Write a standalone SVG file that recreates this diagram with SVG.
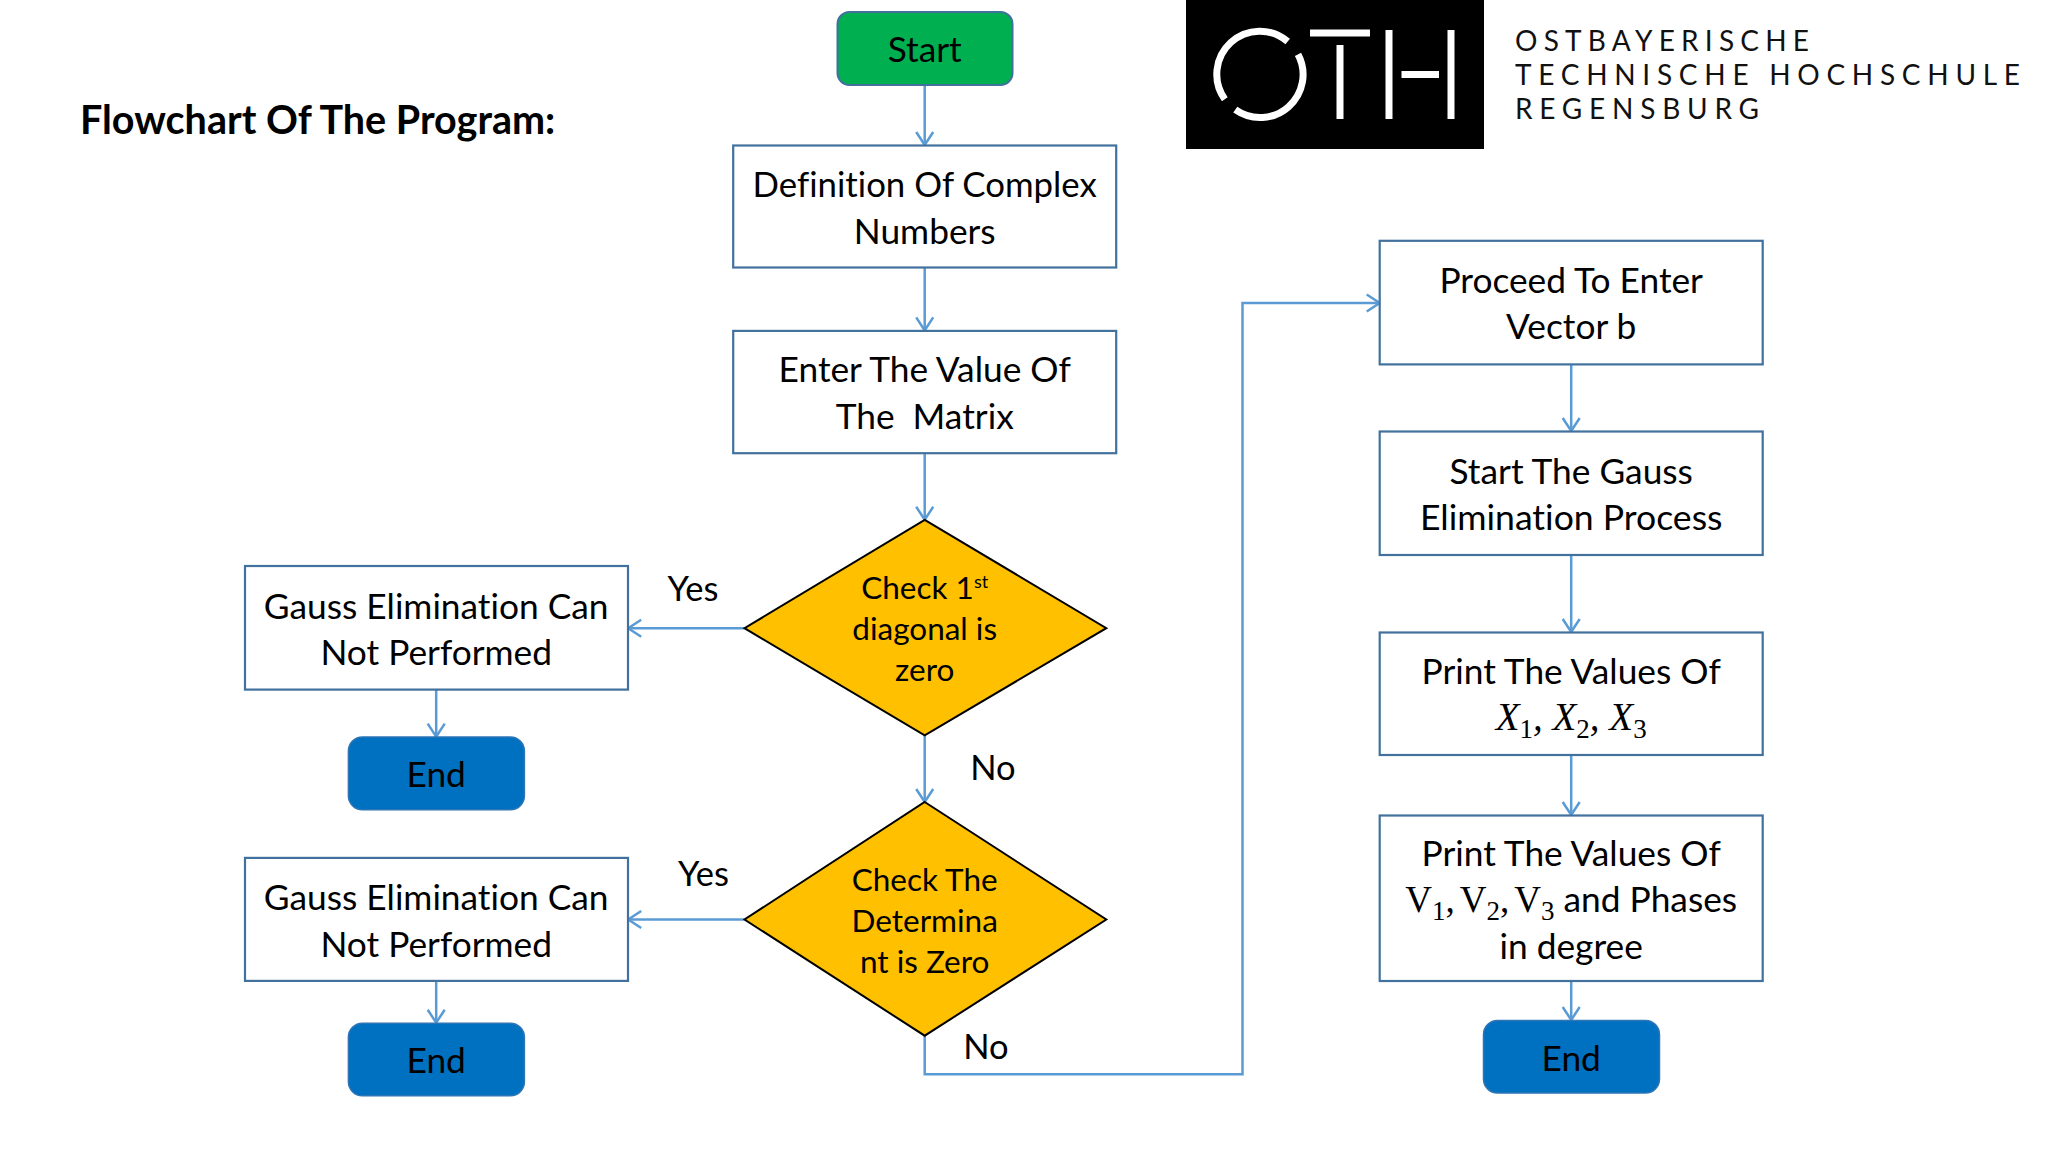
<svg xmlns="http://www.w3.org/2000/svg" width="2048" height="1152" viewBox="0 0 2048 1152">
<style>
text{font-family:"Lato","Carlito","Liberation Sans",sans-serif;fill:#000;text-anchor:middle;font-variant-ligatures:none}
.t{font-size:35.3px}
.d{font-size:31.5px}
.l{font-size:34.5px}
.box{fill:#fff;stroke:#41719c;stroke-width:2.2}
.end{fill:#0070c0;stroke:#2e75b6;stroke-width:1.5}
.dia{fill:#ffc000;stroke:#000;stroke-width:2}
.c{fill:none;stroke:#5b9bd5;stroke-width:2.5;marker-end:url(#a)}
.m{font-family:"Liberation Serif","DejaVu Serif",serif;font-style:italic;font-size:39px}
.v{font-family:"Liberation Serif","DejaVu Serif",serif;font-size:37px}
.s{font-family:"Liberation Serif","DejaVu Serif",serif;font-style:normal;font-size:27px}
.logo{fill:none;stroke:#fff;stroke-width:7}
.lt{font-family:"Lato","Open Sans",sans-serif;font-size:28px;text-anchor:start;fill:#111}
</style>
<defs>
<marker id="a" markerUnits="userSpaceOnUse" markerWidth="20" markerHeight="22" refX="15" refY="10" orient="auto" viewBox="0 0 20 20">
<path d="M2,1.5 L15,10 L2,18.5" fill="none" stroke="#5b9bd5" stroke-width="2.5"/>
</marker>
</defs>
<rect width="2048" height="1152" fill="#fff"/>
<text id="title" x="80" y="134" style="font-weight:700;font-size:39.5px;text-anchor:start">Flowchart Of The Program:</text>

<g id="logo">
<rect x="1186" y="0" width="298" height="149" fill="#000"/>
<path class="logo" d="M1287.7,41.5 A43,43 0 0 0 1224.8,99.2"/>
<path class="logo" d="M1235.3,109.7 A43,43 0 0 0 1298,54.3"/>
<path class="logo" d="M1310,33 H1370 M1340,45 V119 M1389,30 V119 M1401.5,74.5 H1439 M1451,30 V119"/>
<text class="lt" x="1515" y="51" textLength="294" lengthAdjust="spacing">OSTBAYERISCHE</text>
<text class="lt" x="1515" y="85" textLength="505" lengthAdjust="spacing">TECHNISCHE HOCHSCHULE</text>
<text class="lt" x="1515" y="119" textLength="244" lengthAdjust="spacing">REGENSBURG</text>
</g>

<g id="connectors">
<path class="c" d="M924.7,85 V145"/>
<path class="c" d="M924.7,267.7 V330.4"/>
<path class="c" d="M924.7,453.2 V519.8"/>
<path class="c" d="M924.7,735.3 V802"/>
<path class="c" d="M744.5,628.2 H628.2"/>
<path class="c" d="M744.5,919.5 H628.2"/>
<path class="c" d="M436.2,689.6 V736.6"/>
<path class="c" d="M436.2,980.9 V1022.7"/>
<path class="c" d="M924.7,1035.7 V1074.3 H1242.5 V303 H1379.7"/>
<path class="c" d="M1571.2,364.4 V431"/>
<path class="c" d="M1571.2,555 V632"/>
<path class="c" d="M1571.2,755 V815"/>
<path class="c" d="M1571.2,981 V1020"/>
</g>

<g id="start">
<rect x="837.5" y="12" width="175" height="73" rx="12" fill="#00b050" stroke="#41719c" stroke-width="2"/>
<text class="t" x="924.7" y="62">Start</text>
</g>
<g id="def">
<rect class="box" x="733.2" y="145.5" width="383" height="122"/>
<text class="t" x="924.7" y="197" style="font-size:34.8px">Definition Of Complex</text>
<text class="t" x="924.7" y="244">Numbers</text>
</g>
<g id="enter">
<rect class="box" x="733.2" y="330.9" width="383" height="122.3"/>
<text class="t" x="924.7" y="382">Enter The Value Of</text>
<text class="t" x="924.7" y="429" xml:space="preserve">The  Matrix</text>
</g>
<g id="check1">
<polygon class="dia" points="924.7,519.8 1106.3,628.2 924.7,735.3 744.5,628.2"/>
<text class="d" x="924.7" y="599">Check 1<tspan dy="-11" font-size="18">st</tspan></text>
<text class="d" x="924.7" y="640">diagonal is</text>
<text class="d" x="924.7" y="681">zero</text>
</g>
<g id="check2">
<polygon class="dia" points="924.7,802 1106.3,919.5 924.7,1035.7 744.5,919.5"/>
<text class="d" x="924.7" y="890.5">Check The</text>
<text class="d" x="924.7" y="932">Determina</text>
<text class="d" x="924.7" y="973">nt is Zero</text>
</g>
<g id="gauss1">
<rect class="box" x="245" y="566" width="383" height="123.6"/>
<text class="t" x="436.2" y="618.5">Gauss Elimination Can</text>
<text class="t" x="436.2" y="665">Not Performed</text>
</g>
<g id="end1">
<rect class="end" x="348.4" y="737" width="176" height="72.8" rx="14"/>
<text class="t" x="436.2" y="787">End</text>
</g>
<g id="gauss2">
<rect class="box" x="245" y="857.9" width="383" height="123"/>
<text class="t" x="436.2" y="910">Gauss Elimination Can</text>
<text class="t" x="436.2" y="956.5">Not Performed</text>
</g>
<g id="end2">
<rect class="end" x="348.4" y="1023.2" width="176" height="72.6" rx="14"/>
<text class="t" x="436.2" y="1073">End</text>
</g>
<g id="proceed">
<rect class="box" x="1379.7" y="240.8" width="383" height="123.6"/>
<text class="t" x="1571.2" y="292.5">Proceed To Enter</text>
<text class="t" x="1571.2" y="339">Vector b</text>
</g>
<g id="gaussstart">
<rect class="box" x="1379.7" y="431.5" width="383" height="123.5"/>
<text class="t" x="1571.2" y="483.5">Start The Gauss</text>
<text class="t" x="1571.2" y="530" style="font-size:35.6px">Elimination Process</text>
</g>
<g id="printx">
<rect class="box" x="1379.7" y="632.5" width="383" height="122.5"/>
<text class="t" x="1571.2" y="684">Print The Values Of</text>
<text class="t m" x="1571.2" y="730">X<tspan class="s" dy="8">1</tspan><tspan dy="-8">, X</tspan><tspan class="s" dy="8">2</tspan><tspan dy="-8">, X</tspan><tspan class="s" dy="8">3</tspan></text>
</g>
<g id="printv">
<rect class="box" x="1379.7" y="815.5" width="383" height="165.5"/>
<text class="t" x="1571.2" y="865.5">Print The Values Of</text>
<text class="t" x="1571.2" y="912"><tspan class="v">V</tspan><tspan class="s" dy="8">1</tspan><tspan class="v" dy="-8">,</tspan><tspan class="v" dx="5">V</tspan><tspan class="s" dy="8">2</tspan><tspan class="v" dy="-8">,</tspan><tspan class="v" dx="5">V</tspan><tspan class="s" dy="8">3</tspan><tspan dy="-8"> and Phases</tspan></text>
<text class="t" x="1571.2" y="958.5">in degree</text>
</g>
<g id="end3">
<rect class="end" x="1483.5" y="1020.5" width="176" height="72.5" rx="14"/>
<text class="t" x="1571.2" y="1071">End</text>
</g>
<g id="labels">
<text class="l" x="693" y="601">Yes</text>
<text class="l" x="703.5" y="885.5">Yes</text>
<text class="l" x="993" y="780">No</text>
<text class="l" x="986" y="1059">No</text>
</g>
</svg>
